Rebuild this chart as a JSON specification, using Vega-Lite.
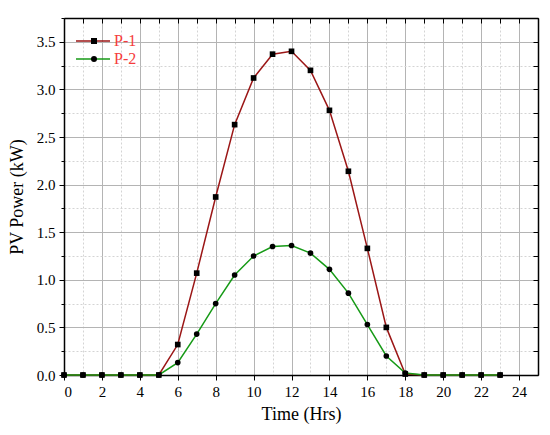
{
  "$schema": "https://vega.github.io/schema/vega-lite/v6.json",
  "width": 474,
  "height": 357,
  "autosize": "none",
  "padding": {"left": 64, "top": 18, "right": 12, "bottom": 60},
  "background": "white",
  "config": {
    "view": {"stroke": null},
    "font": "Liberation Serif",
    "axis": {
      "labelFont": "Liberation Serif",
      "titleFont": "Liberation Serif",
      "labelFontSize": 14,
      "titleFontSize": 17,
      "titleFontWeight": "normal",
      "labelColor": "black",
      "titleColor": "black",
      "domainColor": "black",
      "domainWidth": 1.5,
      "tickColor": "black",
      "tickWidth": 1
    },
    "legend": {"labelFont": "Liberation Serif"}
  },
  "data": {
    "values": [
      {"hour": 0, "power": 0, "series": "P-1"},
      {"hour": 1, "power": 0, "series": "P-1"},
      {"hour": 2, "power": 0, "series": "P-1"},
      {"hour": 3, "power": 0, "series": "P-1"},
      {"hour": 4, "power": 0, "series": "P-1"},
      {"hour": 5, "power": 0, "series": "P-1"},
      {"hour": 6, "power": 0.32, "series": "P-1"},
      {"hour": 7, "power": 1.07, "series": "P-1"},
      {"hour": 8, "power": 1.87, "series": "P-1"},
      {"hour": 9, "power": 2.63, "series": "P-1"},
      {"hour": 10, "power": 3.12, "series": "P-1"},
      {"hour": 11, "power": 3.37, "series": "P-1"},
      {"hour": 12, "power": 3.4, "series": "P-1"},
      {"hour": 13, "power": 3.2, "series": "P-1"},
      {"hour": 14, "power": 2.78, "series": "P-1"},
      {"hour": 15, "power": 2.14, "series": "P-1"},
      {"hour": 16, "power": 1.33, "series": "P-1"},
      {"hour": 17, "power": 0.5, "series": "P-1"},
      {"hour": 18, "power": 0.01, "series": "P-1"},
      {"hour": 19, "power": 0, "series": "P-1"},
      {"hour": 20, "power": 0, "series": "P-1"},
      {"hour": 21, "power": 0, "series": "P-1"},
      {"hour": 22, "power": 0, "series": "P-1"},
      {"hour": 23, "power": 0, "series": "P-1"},
      {"hour": 0, "power": 0, "series": "P-2"},
      {"hour": 1, "power": 0, "series": "P-2"},
      {"hour": 2, "power": 0, "series": "P-2"},
      {"hour": 3, "power": 0, "series": "P-2"},
      {"hour": 4, "power": 0, "series": "P-2"},
      {"hour": 5, "power": 0, "series": "P-2"},
      {"hour": 6, "power": 0.13, "series": "P-2"},
      {"hour": 7, "power": 0.43, "series": "P-2"},
      {"hour": 8, "power": 0.75, "series": "P-2"},
      {"hour": 9, "power": 1.05, "series": "P-2"},
      {"hour": 10, "power": 1.25, "series": "P-2"},
      {"hour": 11, "power": 1.35, "series": "P-2"},
      {"hour": 12, "power": 1.36, "series": "P-2"},
      {"hour": 13, "power": 1.28, "series": "P-2"},
      {"hour": 14, "power": 1.11, "series": "P-2"},
      {"hour": 15, "power": 0.86, "series": "P-2"},
      {"hour": 16, "power": 0.53, "series": "P-2"},
      {"hour": 17, "power": 0.2, "series": "P-2"},
      {"hour": 18, "power": 0.02, "series": "P-2"},
      {"hour": 19, "power": 0, "series": "P-2"},
      {"hour": 20, "power": 0, "series": "P-2"},
      {"hour": 21, "power": 0, "series": "P-2"},
      {"hour": 22, "power": 0, "series": "P-2"},
      {"hour": 23, "power": 0, "series": "P-2"}
    ]
  },
  "layer": [
    {
      "mark": {"type": "point", "opacity": 0},
      "encoding": {
        "x": {
          "field": "hour", "type": "quantitative",
          "scale": {"domain": [0, 25], "nice": false},
          "axis": {
            "orient": "bottom", "values": [1, 3, 5, 7, 9, 11, 13, 15, 17, 19, 21, 23, 25],
            "grid": true, "gridColor": "#d4d4d4", "gridDash": [2, 2], "gridWidth": 1,
            "labels": false, "ticks": false, "domain": false, "title": null
          }
        },
        "y": {
          "field": "power", "type": "quantitative",
          "scale": {"domain": [0, 3.75], "nice": false, "zero": true},
          "axis": {
            "orient": "left", "values": [0.25, 0.75, 1.25, 1.75, 2.25, 2.75, 3.25, 3.75],
            "grid": true, "gridColor": "#d4d4d4", "gridDash": [2, 2], "gridWidth": 1,
            "labels": false, "ticks": true, "tickSize": 3, "domain": false, "title": null
          }
        }
      }
    },
    {
      "mark": {"type": "line", "interpolate": "linear", "strokeWidth": 1.5},
      "encoding": {
        "x": {
          "field": "hour", "type": "quantitative",
          "axis": {
            "orient": "bottom", "values": [0, 2, 4, 6, 8, 10, 12, 14, 16, 18, 20, 22, 24],
            "grid": true, "gridColor": "#b4b4b4", "gridWidth": 1,
            "tickSize": 5, "labelPadding": 4, "title": "Time (Hrs)", "titlePadding": 6,
            "labelFont": "Liberation Serif", "labelFontSize": 15,
            "titleFont": "Liberation Serif", "titleFontSize": 18
          }
        },
        "y": {
          "field": "power", "type": "quantitative",
          "axis": {
            "orient": "left", "values": [0, 0.5, 1, 1.5, 2, 2.5, 3, 3.5], "format": ".1f",
            "grid": true, "gridColor": "#b4b4b4", "gridWidth": 1,
            "tickSize": 5, "labelPadding": 4, "title": "PV Power (kW)", "titlePadding": 10,
            "labelFont": "Liberation Serif", "labelFontSize": 15,
            "titleFont": "Liberation Serif", "titleFontSize": 18
          }
        },
        "color": {
          "field": "series", "type": "nominal",
          "scale": {"domain": ["P-1", "P-2"], "range": ["#9b1616", "#169a16"]},
          "legend": {
            "orient": "none", "legendX": 11, "legendY": 15, "title": null,
            "symbolType": "stroke", "symbolSize": 1156, "symbolStrokeWidth": 1.5,
            "clipHeight": 16, "rowPadding": 2, "labelOffset": 3,
            "labelColor": "#f53c3c", "labelFontSize": 16, "labelFont": "Liberation Serif"
          }
        }
      }
    },
    {
      "mark": {"type": "point", "filled": true, "color": "black", "opacity": 1},
      "encoding": {
        "x": {
          "field": "hour", "type": "quantitative",
          "axis": {
            "orient": "top", "values": [0, 1, 2, 3, 4, 5, 6, 7, 8, 9, 10, 11, 12, 13, 14, 15, 16, 17, 18, 19, 20, 21, 22, 23, 24, 25],
            "grid": false, "labels": false, "tickSize": -5, "title": null
          }
        },
        "y": {
          "field": "power", "type": "quantitative",
          "axis": {
            "orient": "right", "values": [0, 0.25, 0.5, 0.75, 1, 1.25, 1.5, 1.75, 2, 2.25, 2.5, 2.75, 3, 3.25, 3.5, 3.75],
            "grid": false, "labels": false, "tickSize": -5, "title": null
          }
        },
        "shape": {
          "field": "series", "type": "nominal",
          "scale": {"range": ["square", "circle"]},
          "legend": {
            "orient": "none", "legendX": 22, "legendY": 15, "title": null,
            "symbolSize": 36, "symbolFillColor": "black", "symbolStrokeWidth": 0,
            "clipHeight": 16, "rowPadding": 2, "labelExpr": "''", "labelFontSize": 16
          }
        },
        "size": {"value": 32}
      }
    }
  ],
  "resolve": {"axis": {"x": "independent", "y": "independent"}}
}
